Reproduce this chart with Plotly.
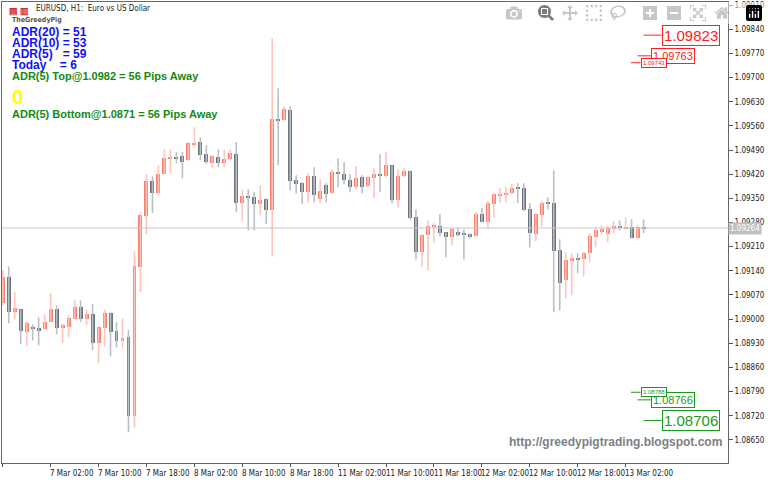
import plotly.graph_objects as go

# EURUSD H1 bars, 6 Mar 18:00 -> 13 Mar 05:00 (weekend skipped)
opens = [1.09046, 1.09121, 1.09020, 1.09028, 1.08962, 1.08976, 1.08973, 1.08970, 1.08991, 1.09028,
         1.08973, 1.08976, 1.09000, 1.09034, 1.09000, 1.09014, 1.08930, 1.08973, 1.09017, 1.08965,
         1.08938, 1.08947, 1.08718, 1.09150, 1.09298, 1.09400, 1.09365, 1.09420, 1.09466, 1.09469,
         1.09472, 1.09460, 1.09504, 1.09513, 1.09478, 1.09452, 1.09469, 1.09452, 1.09463, 1.09478,
         1.09336, 1.09356, 1.09353, 1.09333, 1.09347, 1.09315, 1.09579, 1.09576, 1.09605, 1.09402,
         1.09394, 1.09368, 1.09414, 1.09347, 1.09388, 1.09365, 1.09426, 1.09420, 1.09402, 1.09382,
         1.09411, 1.09385, 1.09408, 1.09420, 1.09414, 1.09446, 1.09344, 1.09414, 1.09429, 1.09295,
         1.09194, 1.09243, 1.09266, 1.09269, 1.09252, 1.09237, 1.09252, 1.09249, 1.09246, 1.09240,
         1.09304, 1.09281, 1.09333, 1.09356, 1.09362, 1.09365, 1.09382, 1.09379, 1.09318, 1.09246,
         1.09301, 1.09339, 1.09336, 1.09200, 1.09112, 1.09168, 1.09176, 1.09173, 1.09191, 1.09237,
         1.09255, 1.09246, 1.09260, 1.09269, 1.09263, 1.09266, 1.09234, 1.09266]
highs = [1.09141, 1.09153, 1.09078, 1.09028, 1.08994, 1.08985, 1.09005, 1.09014, 1.09075, 1.09040,
         1.08988, 1.09011, 1.09054, 1.09054, 1.09028, 1.09043, 1.08976, 1.09028, 1.09020, 1.08991,
         1.09002, 1.08968, 1.09197, 1.09310, 1.09420, 1.09414, 1.09446, 1.09492, 1.09492, 1.09484,
         1.09484, 1.09513, 1.09556, 1.09527, 1.09504, 1.09475, 1.09492, 1.09490, 1.09492, 1.09513,
         1.09376, 1.09376, 1.09368, 1.09388, 1.09350, 1.09814, 1.09669, 1.09617, 1.09617, 1.09417,
         1.09397, 1.09423, 1.09440, 1.09405, 1.09394, 1.09434, 1.09466, 1.09455, 1.09420, 1.09443,
         1.09417, 1.09414, 1.09437, 1.09478, 1.09484, 1.09446, 1.09434, 1.09437, 1.09431, 1.09318,
         1.09246, 1.09286, 1.09278, 1.09304, 1.09252, 1.09260, 1.09266, 1.09260, 1.09249, 1.09310,
         1.09321, 1.09342, 1.09365, 1.09379, 1.09382, 1.09391, 1.09394, 1.09394, 1.09336, 1.09307,
         1.09342, 1.09353, 1.09431, 1.09231, 1.09194, 1.09191, 1.09191, 1.09194, 1.09249, 1.09266,
         1.09272, 1.09272, 1.09284, 1.09286, 1.09295, 1.09289, 1.09272, 1.09289]
lows = [1.09040, 1.08988, 1.09000, 1.08927, 1.08921, 1.08938, 1.08924, 1.08968, 1.08991, 1.08956,
        1.08930, 1.08947, 1.09000, 1.08991, 1.08982, 1.08910, 1.08872, 1.08921, 1.08892, 1.08918,
        1.08918, 1.08672, 1.08686, 1.09078, 1.09246, 1.09307, 1.09359, 1.09420, 1.09423, 1.09452,
        1.09408, 1.09458, 1.09498, 1.09460, 1.09449, 1.09437, 1.09440, 1.09440, 1.09460, 1.09310,
        1.09284, 1.09257, 1.09257, 1.09301, 1.09275, 1.09182, 1.09446, 1.09574, 1.09373, 1.09365,
        1.09333, 1.09339, 1.09339, 1.09336, 1.09339, 1.09362, 1.09382, 1.09391, 1.09368, 1.09376,
        1.09365, 1.09382, 1.09350, 1.09368, 1.09411, 1.09336, 1.09324, 1.09411, 1.09289, 1.09173,
        1.09150, 1.09141, 1.09223, 1.09240, 1.09179, 1.09214, 1.09240, 1.09173, 1.09234, 1.09240,
        1.09281, 1.09263, 1.09295, 1.09336, 1.09339, 1.09362, 1.09336, 1.09313, 1.09208, 1.09226,
        1.09269, 1.09318, 1.09020, 1.09025, 1.09060, 1.09069, 1.09133, 1.09124, 1.09165, 1.09208,
        1.09249, 1.09223, 1.09249, 1.09257, 1.09260, 1.09234, 1.09231, 1.09249]
closes = [1.09121, 1.09020, 1.09031, 1.08965, 1.08988, 1.08970, 1.08965, 1.08991, 1.09028, 1.08973,
          1.08982, 1.09002, 1.09034, 1.09000, 1.09014, 1.08930, 1.08976, 1.09017, 1.08962, 1.08936,
          1.08944, 1.08718, 1.09153, 1.09301, 1.09400, 1.09365, 1.09420, 1.09466, 1.09469, 1.09463,
          1.09455, 1.09510, 1.09510, 1.09475, 1.09455, 1.09472, 1.09452, 1.09463, 1.09481, 1.09336,
          1.09356, 1.09353, 1.09333, 1.09344, 1.09315, 1.09579, 1.09576, 1.09608, 1.09400, 1.09391,
          1.09368, 1.09414, 1.09359, 1.09371, 1.09362, 1.09426, 1.09420, 1.09402, 1.09382, 1.09408,
          1.09382, 1.09411, 1.09420, 1.09417, 1.09446, 1.09344, 1.09414, 1.09429, 1.09292, 1.09194,
          1.09243, 1.09269, 1.09272, 1.09249, 1.09237, 1.09260, 1.09243, 1.09246, 1.09237, 1.09304,
          1.09281, 1.09336, 1.09362, 1.09362, 1.09365, 1.09379, 1.09379, 1.09315, 1.09249, 1.09304,
          1.09336, 1.09336, 1.09197, 1.09104, 1.09170, 1.09176, 1.09170, 1.09191, 1.09240, 1.09257,
          1.09260, 1.09263, 1.09269, 1.09263, 1.09266, 1.09234, 1.09266, 1.09264]

time_ticks = [0, 8, 16, 24, 32, 40, 48, 56, 64, 72, 80, 88, 96, 104]
time_labels = ["6 Mar 2024", "7 Mar 02:00", "7 Mar 10:00", "7 Mar 18:00", "8 Mar 02:00",
               "8 Mar 10:00", "8 Mar 18:00", "11 Mar 02:00", "11 Mar 10:00", "11 Mar 18:00",
               "12 Mar 02:00", "12 Mar 10:00", "12 Mar 18:00", "13 Mar 02:00"]
price_ticks = [1.08650, 1.08720, 1.08790, 1.08860, 1.08930, 1.09000, 1.09070, 1.09140, 1.09210,
               1.09280, 1.09350, 1.09420, 1.09490, 1.09560, 1.09630, 1.09700, 1.09770, 1.09840, 1.09910]

current_price = 1.09264
top_levels = [1.09823, 1.09763, 1.09743]
bottom_levels = [1.08706, 1.08766, 1.08788]
info_lines = ["ADR(20) = 51", "ADR(10) = 53", "ADR(5)   = 59", "Today    = 6"]

BULL, BULL_WICK = "#fa8072", "#fdc4bc"
BEAR, BEAR_WICK = "#6b737c", "#babfc4"

n = len(opens)
idx = list(range(n))

fig = go.Figure()
for up, body_col, wick_col in [(True, BULL, BULL_WICK), (False, BEAR, BEAR_WICK)]:
    sel = [i for i in idx if (closes[i] >= opens[i]) == up]
    wx, wy = [], []
    for i in sel:
        wx += [i, i, None]
        wy += [lows[i], highs[i], None]
    fig.add_trace(go.Scatter(x=wx, y=wy, mode="lines", line=dict(color=wick_col, width=1.6),
                             hoverinfo="skip", showlegend=False))
    fig.add_trace(go.Bar(x=sel, base=[min(opens[i], closes[i]) for i in sel],
                         y=[max(abs(closes[i] - opens[i]), 0.000015) for i in sel],
                         width=0.66, marker=dict(color=body_col, line_width=0), showlegend=False))

fig.add_hline(y=current_price, line=dict(color="#c8c8c8", width=1))

shapes_cfg = [(0, 110.0, 15, 107.0), (1, 108.2, 11, 106.0), (2, 106.5, 6, 104.9)]
for levels, col in [(top_levels, "#ff2020"), (bottom_levels, "#1a9a1a")]:
    for k, x0, fs, xl in shapes_cfg:
        p = levels[k]
        fig.add_shape(type="line", x0=xl, x1=x0, y0=p, y1=p, line=dict(color=col, width=1))
        fig.add_annotation(x=x0, y=p, text=f"{p:.5f}", showarrow=False, xanchor="left",
                           font=dict(family="Liberation Sans", size=fs, color=col),
                           bordercolor=col, borderwidth=1, borderpad=1, bgcolor="white")

fig.add_annotation(xref="paper", x=1.0, y=current_price, text=f"{current_price:.5f}",
                   showarrow=False, xanchor="left", bgcolor="#c0c0c0",
                   font=dict(family="DejaVu Sans Condensed", size=8, color="white"))

for t, lab in zip(time_ticks, time_labels):
    fig.add_annotation(x=t - 0.4, xanchor="left", yref="paper", y=-0.008, yanchor="top",
                       text=lab, showarrow=False,
                       font=dict(family="DejaVu Sans Condensed", size=8, color="#222"))

txt = [("EURUSD, H1:  Euro vs US Dollar", 9, "#222", "DejaVu Sans Condensed", 8, 34),
       ("<b>TheGreedyPig</b>", 20, "#555", "DejaVu Sans Condensed", 7, 10)]
for i, line in enumerate(info_lines):
    txt.append((f"<b>{line}</b>", 32 + 11 * i, "#1010ff", "Liberation Sans", 12, 10))
txt += [("<b>ADR(5) Top@1.0982 = 56 Pips Away</b>", 76, "#138a13", "Liberation Sans", 11, 10),
        ("<b>0</b>", 97, "#ffff00", "Liberation Sans", 20, 10),
        ("<b>ADR(5) Bottom@1.0871 = 56 Pips Away</b>", 114, "#138a13", "Liberation Sans", 11, 10)]
for text, ypx, col, fam, fs, xpx in txt:
    fig.add_annotation(xref="paper", yref="paper", x=(xpx - 2) / 726, y=1 - (ypx - 2) / 461,
                       xanchor="left", yanchor="middle", text=text, showarrow=False,
                       font=dict(family=fam, size=fs, color=col))
fig.add_annotation(xref="paper", yref="paper", x=(31 - 2) / 726, y=1 - (10 - 2) / 461,
                   text="<b>▤ ▥</b>", showarrow=False, xanchor="right", yanchor="middle",
                   font=dict(size=9, color="#d03030"))
fig.add_annotation(xref="paper", yref="paper", x=0.994, y=0.025, xanchor="right",
                   text="<b>http://greedypigtrading.blogspot.com</b>", showarrow=False,
                   font=dict(family="Liberation Sans", size=12, color="#7a7f85"))

fig.update_layout(
    width=768, height=480, margin=dict(l=2, r=40, t=2, b=17),
    plot_bgcolor="white", paper_bgcolor="white", bargap=0, barmode="overlay",
    showlegend=False,
    xaxis=dict(range=[-0.12, 121.1], tickvals=time_ticks, showticklabels=False,
               ticks="outside", ticklen=3, tickcolor="#555", showgrid=False, zeroline=False,
               showline=True, mirror=True, linecolor="#666", linewidth=1),
    yaxis=dict(range=[1.08583, 1.09919], side="right", tickvals=price_ticks,
               ticktext=[f"{v:.5f}" for v in price_ticks], ticks="outside", ticklen=4,
               tickcolor="#555", tickfont=dict(family="DejaVu Sans Condensed", size=8, color="#222"),
               showgrid=False, zeroline=False, showline=True, mirror=True,
               linecolor="#666", linewidth=1),
)

fig.write_html("out.html", post_script="document.body.style.margin='0';")
